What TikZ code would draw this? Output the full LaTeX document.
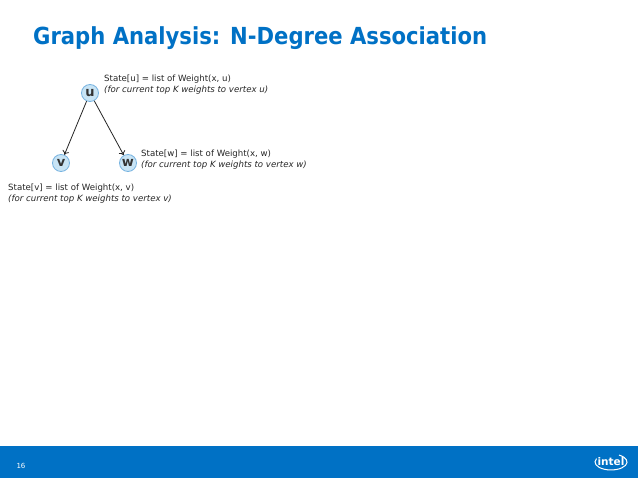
\documentclass[tikz,border=0pt]{standalone}
\usepackage{fontspec}
\usetikzlibrary{arrows.meta}
\setmainfont{DejaVu Sans}
\newfontfamily\condfont{DejaVu Sans Condensed}
\definecolor{intelblue}{RGB}{0,113,197}
\definecolor{nodefill}{RGB}{200,228,245}
\definecolor{nodedraw}{RGB}{120,180,225}
\begin{document}
\begin{tikzpicture}[x=1pt,y=-1pt,
  vert/.style={circle,fill=nodefill,draw=nodedraw,line width=0.8pt,minimum size=17pt,inner sep=0pt,font=\fontsize{13}{13}\selectfont\bfseries,text=black!80},
  lbl/.style={anchor=north west,align=left,inner sep=0pt,font=\fontsize{8.6}{10.5}\selectfont,text=black!85},
  edge/.style={-{To[length=4pt,width=7pt]},black!85,line width=0.8pt}]
\useasboundingbox (0,0) rectangle (638,478);
\fill[white] (0,0) rectangle (638,478);
\fill[intelblue] (0,446) rectangle (638,478);
\node[anchor=west,inner sep=0pt,text=intelblue,font=\condfont\fontsize{23.5}{24}\selectfont\bfseries] (title) at (33,38) {Graph Analysis: N-Degree Association};
\node[vert] (u) at (90,93) {u};
\node[vert] (v) at (61,163) {v};
\node[vert] (w) at (128,163) {w};
\draw[edge] (u) -- (v);
\draw[edge] (u) -- (w);
\node[lbl] (lu) at (104,75) {State[u] = list of Weight(x, u)\\\textit{(for current top K weights to vertex u)}};
\node[lbl] (lw) at (141,150) {State[w] = list of Weight(x, w)\\\textit{(for current top K weights to vertex w)}};
\node[lbl] (lv) at (8,184) {State[v] = list of Weight(x, v)\\\textit{(for current top K weights to vertex v)}};
\node[text=white,font=\fontsize{7}{7}\selectfont] (pg) at (21,466) {16};
\node[text=white,font=\fontsize{10.5}{10.5}\selectfont\bfseries] (logo) at (611,462) {intel};
\draw[white,line width=1pt] (596.5,458.6) arc (-155:-420:16 and 8);
\end{tikzpicture}
\end{document}
